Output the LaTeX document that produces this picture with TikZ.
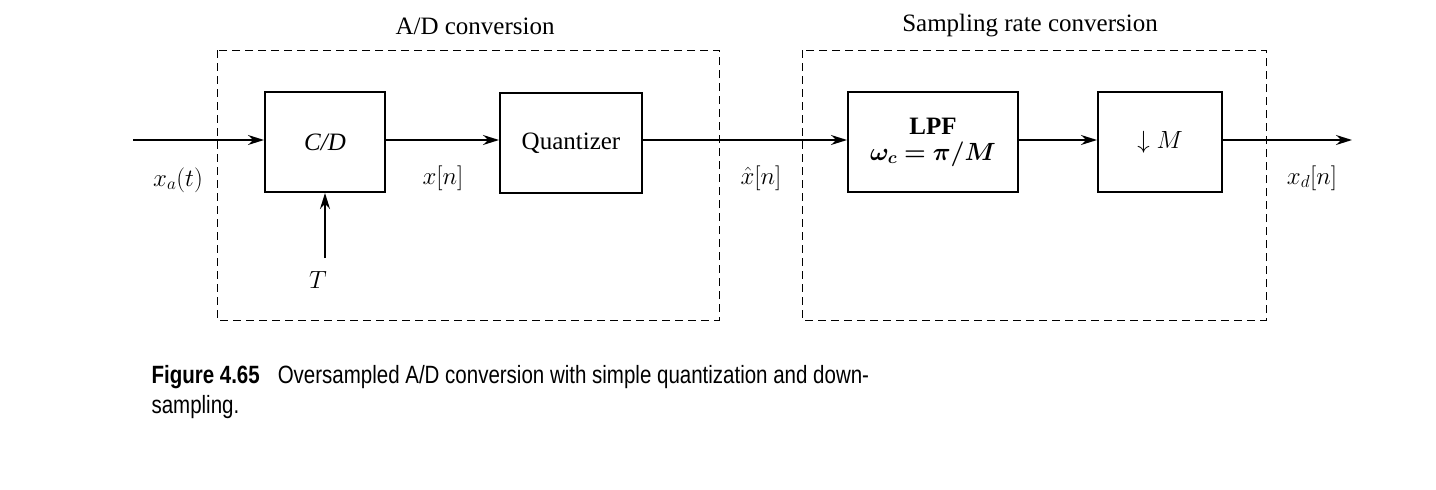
\documentclass[tikz,border=0pt]{standalone}
\usepackage{amsmath,amssymb,bm}
\usepackage{fontspec}
\setmainfont{Liberation Serif}
\newfontfamily\capfont[FakeStretch=0.82]{Liberation Sans}
\usetikzlibrary{arrows.meta}
\begin{document}
\begin{tikzpicture}[x=1pt,y=-1pt,
  blk/.style={draw,line width=2pt},
  dbox/.style={draw,dashed,line width=1pt,dash pattern=on 8pt off 5pt},
  sig/.style={line width=1.6pt,-{Stealth[length=16pt,width=10pt]}},
  lab/.style={font=\fontsize{25}{28}\selectfont}]
\useasboundingbox (0,0) rectangle (1436,490);
\draw[dbox] (217,50) rectangle (719,320);
\draw[dbox] (802,50) rectangle (1266,320);
\node[lab] (t1) at (475,26) {A/D conversion};
\node[lab] (t2) at (1030,26) {Sampling rate conversion};
\node[blk,minimum width=120pt,minimum height=100pt,lab] (cd) at (325,142) {\textit{C/D}};
\node[blk,minimum width=142pt,minimum height=100pt,lab,anchor=north] (q) at (571,92) {Quantizer};
\node[blk,minimum width=170pt,minimum height=100pt,lab,align=center] (lpf) at (933,142) {\textbf{LPF}\\[-2pt]$\bm{\omega_c=\pi/M}$};
\node[blk,minimum width=124pt,minimum height=100pt,lab] (dm) at (1160,142) {$\downarrow M$};
\coordinate (in) at (133,140);
\coordinate (out) at (1352,140);
\coordinate (tb) at (325,258);
\draw[sig] (in) -- (in -| cd.west);
\draw[sig] (cd.east |- in) -- (q.west |- in);
\draw[sig] (q.east |- in) -- (lpf.west |- in);
\draw[sig] (lpf.east |- in) -- (dm.west |- in);
\draw[sig] (dm.east |- in) -- (out);
\draw[sig] (tb) -- (cd.south);
\node[lab] (T) at (318,280) {$T$};
\node[lab] (xa) at (178,180) {$x_a(t)$};
\node[lab] (xn) at (443,178) {$x[n]$};
\node[lab] (xh) at (761,178) {$\hat{x}[n]$};
\node[lab] (xd) at (1312,178) {$x_d[n]$};
\node[anchor=west,font=\capfont\fontsize{25}{30}\selectfont,align=left] (cap) at (148,392)
 {\textbf{Figure 4.65}\hspace{18pt}Oversampled A/D conversion with simple quantization and down-\\sampling.};
\end{tikzpicture}
\end{document}
